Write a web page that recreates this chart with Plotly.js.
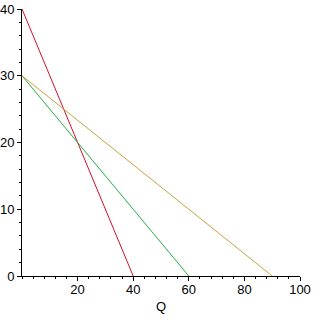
<!DOCTYPE html>
<html>
<head>
<meta charset="utf-8">
<script src="https://cdn.plot.ly/plotly-3.0.1.min.js"></script>
<style>html,body{margin:0;padding:0;background:#fff;}#chart{width:326px;height:324px;}</style>
</head>
<body>
<div id="chart"></div>
<script>
// Data
var redQ = [0, 40];
var redP = [40, 0];
var greenQ = [0, 60];
var greenP = [30, 0];
var orangeQ = [0, 90];
var orangeP = [30, 0];
var xTicks = [20, 40, 60, 80, 100];
var yTicks = [0, 10, 20, 30, 40];

var traces = [
  {x: redQ, y: redP, mode: 'lines', line: {color: '#d0102a', width: 1}, cliponaxis: false},
  {x: greenQ, y: greenP, mode: 'lines', line: {color: '#22b040', width: 1}, cliponaxis: false},
  {x: orangeQ, y: orangeP, mode: 'lines', line: {color: '#cda040', width: 1}, cliponaxis: false}
];

var fnt = {family: 'Liberation Sans, Arial, sans-serif', size: 13, color: '#000'};

var layout = {
  width: 326, height: 324,
  margin: {l: 22, r: 26, t: 9, b: 48},
  paper_bgcolor: '#fff', plot_bgcolor: '#fff',
  showlegend: false,
  font: fnt,
  xaxis: {
    range: [0, 100], showgrid: false, zeroline: false,
    showline: true, linecolor: '#000', linewidth: 1,
    tickmode: 'array', tickvals: xTicks, ticktext: xTicks.map(String),
    ticks: 'outside', ticklen: 4, tickcolor: '#000', tickwidth: 1,
    ticklabelstandoff: -3,
    minor: {dtick: 4, tick0: 0, ticks: 'outside', ticklen: 2, tickcolor: '#000', showgrid: false},
    tickfont: fnt,
    title: {text: 'Q', font: fnt, standoff: 6}
  },
  yaxis: {
    range: [0, 40], showgrid: false, zeroline: false,
    showline: true, linecolor: '#000', linewidth: 1,
    tickmode: 'array', tickvals: yTicks, ticktext: yTicks.map(String),
    ticks: 'outside', ticklen: 4, tickcolor: '#000', tickwidth: 1,
    minor: {dtick: 2, tick0: 0, ticks: 'outside', ticklen: 2, tickcolor: '#000', showgrid: false},
    tickfont: fnt
  }
};

Plotly.newPlot('chart', traces, layout, {staticPlot: true, displayModeBar: false});
</script>
</body>
</html>
